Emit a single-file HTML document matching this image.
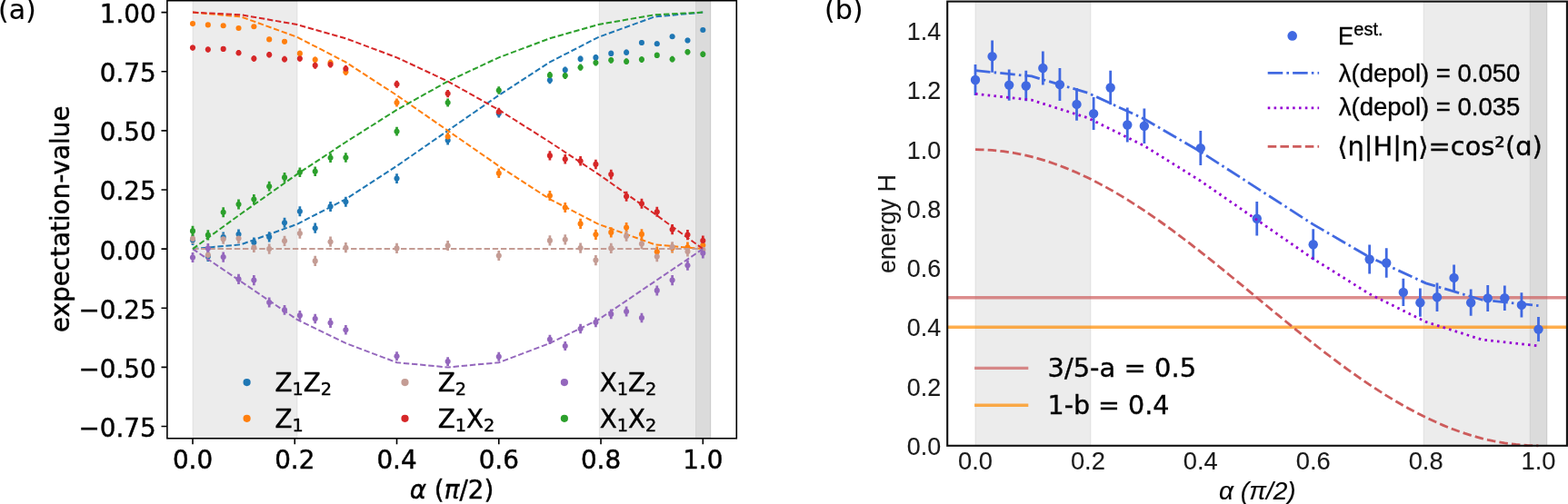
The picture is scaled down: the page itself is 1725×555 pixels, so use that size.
<!DOCTYPE html>
<html lang="en">
<head>
<meta charset="utf-8">
<title>Figure</title>
<style>
html,body{margin:0;padding:0;background:#fff;}
body{width:1725px;height:555px;overflow:hidden;}
svg{display:block;}
</style>
</head>
<body>
<svg width="1725" height="555" viewBox="0 0 1725 555">
<rect x="0" y="0" width="1725" height="555" fill="#ffffff"/>
<g id="axA">
<rect x="212" y="0.7" width="115.01" height="482.05" fill="#808080" fill-opacity="0.15" stroke="#808080" stroke-opacity="0.15" stroke-width="1"/>
<rect x="659.36" y="0.7" width="122.36" height="482.05" fill="#808080" fill-opacity="0.15" stroke="#808080" stroke-opacity="0.15" stroke-width="1"/>
<rect x="765.55" y="0.7" width="16.17" height="482.05" fill="#808080" fill-opacity="0.15" stroke="#808080" stroke-opacity="0.15" stroke-width="1"/>
<path d="M212 258.7V269.9M228.84 276.8V288M245.68 255.51V266.69M262.52 252.41V263.59M279.36 261.4V272.6M296.19 255.31V266.49M313.03 239.73V250.87M329.87 227.27V238.33M346.71 245.62V256.78M363.55 221.89V232.91M380.39 216.81V227.79M436.52 191.25V201.95M492.65 149.62V159.58M548.78 120.41V129.59M604.91 84.37V92.23M621.75 73.44V80.76M638.59 61.56V68.24M655.43 60.11V66.69M672.27 55.74V62.06M689.11 54.58V60.82M705.94 44.26V49.74M722.78 45.51V51.09M739.62 37.73V42.67M756.46 41.85V47.15M773.3 30.88V35.12" fill="none" stroke="#1f77b4" stroke-width="2.7"/>
<path d="M212 24.39V27.81M228.84 25.6V29.2M245.68 26.45V30.15M262.52 28.99V33.01M279.36 27.29V31.11M296.19 40.8V46M313.03 43.1V48.5M329.87 55.74V62.06M346.71 62.44V69.16M363.55 65.55V72.45M380.39 75.58V83.02M436.52 108.6V117.4M492.65 145.67V155.53M548.78 185.49V196.11M604.91 210.04V220.96M621.75 223.09V234.11M638.59 240.83V251.97M655.43 252.71V263.89M672.27 250.31V261.49M689.11 244.92V256.08M705.94 252.31V263.49M722.78 271.6V282.8M739.62 267.4V278.6M756.46 266.6V277.8M773.3 264.4V275.6" fill="none" stroke="#ff7f0e" stroke-width="2.7"/>
<path d="M212 257.31V268.49M228.84 275.3V286.5M245.68 257.6V268.8M262.52 256.91V268.09M279.36 266.9V278.1M296.19 268.5V279.7M313.03 259.7V270.9M329.87 251.51V262.69M346.71 281.81V292.99M363.55 260.6V271.8M380.39 267.1V278.3M436.52 267.8V279M492.65 264.9V276.1M548.78 275.9V287.1M604.91 259.3V270.5M621.75 258.2V269.4M638.59 267.5V278.7M655.43 281.01V292.19M672.27 267.8V279M689.11 254.51V265.69M705.94 263V274.2M722.78 277V288.2M739.62 266.2V277.4M756.46 271.4V282.6M773.3 269.3V280.5" fill="none" stroke="#c49c94" stroke-width="2.7"/>
<path d="M212 49.65V55.55M228.84 51.58V57.62M245.68 50.91V56.89M262.52 55.07V61.33M279.36 61.17V67.83M296.19 57V63.4M313.03 61.85V68.55M329.87 61.17V67.83M346.71 68.56V75.64M363.55 67.59V74.61M380.39 72.07V79.33M436.52 88.78V96.82M492.65 98.88V107.32M548.78 118.64V127.76M604.91 166.25V176.55M621.75 170.12V180.48M638.59 172.1V182.5M655.43 175.67V186.13M672.27 186.78V197.42M689.11 210.74V221.66M705.94 218.8V229.8M722.78 227.67V238.73M739.62 247.12V258.28M756.46 253.01V264.19M773.3 259.4V270.6" fill="none" stroke="#d62728" stroke-width="2.7"/>
<path d="M212 277.9V289.1M228.84 267.9V279.1M245.68 277.5V288.7M262.52 301.85V312.95M279.36 303.05V314.15M296.19 327.55V338.45M313.03 335.99V346.81M329.87 342.03V352.77M346.71 345.65V356.35M363.55 350.28V360.92M380.39 357.94V368.46M436.52 387.21V397.19M492.65 393.18V403.02M548.78 387.71V397.69M604.91 368.63V378.97M621.75 375.89V386.11M638.59 356.83V367.37M655.43 349.58V360.22M672.27 340.52V351.28M689.11 337.6V348.4M705.94 344.64V355.36M722.78 314.39V325.41M739.62 303.05V314.15M756.46 286.61V297.79M773.3 273.2V284.4" fill="none" stroke="#9467bd" stroke-width="2.7"/>
<path d="M212 248.82V259.98M228.84 253.31V264.49M245.68 228.17V239.23M262.52 219.5V230.5M279.36 214.12V225.08M296.19 199.8V210.6M313.03 190.06V200.74M329.87 184.5V195.1M346.71 183.41V193.99M363.55 168.63V178.97M380.39 168.33V178.67M436.52 139.84V149.56M492.65 108.6V117.4M548.78 95.34V103.66M604.91 79.1V86.7M621.75 79.39V87.01M638.59 70.61V77.79M655.43 65.55V72.45M672.27 62.92V69.68M689.11 64.28V71.12M705.94 62.24V68.96M722.78 57.68V64.12M739.62 61.85V68.55M756.46 54.2V60.4M773.3 56.62V62.98" fill="none" stroke="#2ca02c" stroke-width="2.7"/>
<g fill="#1f77b4">
<circle cx="212" cy="264.3" r="3.05"/>
<circle cx="228.84" cy="282.4" r="3.05"/>
<circle cx="245.68" cy="261.1" r="3.05"/>
<circle cx="262.52" cy="258" r="3.05"/>
<circle cx="279.36" cy="267" r="3.05"/>
<circle cx="296.19" cy="260.9" r="3.05"/>
<circle cx="313.03" cy="245.3" r="3.05"/>
<circle cx="329.87" cy="232.8" r="3.05"/>
<circle cx="346.71" cy="251.2" r="3.05"/>
<circle cx="363.55" cy="227.4" r="3.05"/>
<circle cx="380.39" cy="222.3" r="3.05"/>
<circle cx="436.52" cy="196.6" r="3.05"/>
<circle cx="492.65" cy="154.6" r="3.05"/>
<circle cx="548.78" cy="125" r="3.05"/>
<circle cx="604.91" cy="88.3" r="3.05"/>
<circle cx="621.75" cy="77.1" r="3.05"/>
<circle cx="638.59" cy="64.9" r="3.05"/>
<circle cx="655.43" cy="63.4" r="3.05"/>
<circle cx="672.27" cy="58.9" r="3.05"/>
<circle cx="689.11" cy="57.7" r="3.05"/>
<circle cx="705.94" cy="47" r="3.05"/>
<circle cx="722.78" cy="48.3" r="3.05"/>
<circle cx="739.62" cy="40.2" r="3.05"/>
<circle cx="756.46" cy="44.5" r="3.05"/>
<circle cx="773.3" cy="33" r="3.05"/>
</g>
<polyline points="212,274.1 265.04,269.28 326.79,246.88 380.39,219.29 436.52,182.79 492.65,143.85 548.78,104.91 604.91,68.41 658.51,40.82 720.26,18.42 773.3,13.6" fill="none" stroke="#1f77b4" stroke-width="2.0" stroke-dasharray="6.4,2.76" />
<g fill="#ff7f0e">
<circle cx="212" cy="26.1" r="3.05"/>
<circle cx="228.84" cy="27.4" r="3.05"/>
<circle cx="245.68" cy="28.3" r="3.05"/>
<circle cx="262.52" cy="31" r="3.05"/>
<circle cx="279.36" cy="29.2" r="3.05"/>
<circle cx="296.19" cy="43.4" r="3.05"/>
<circle cx="313.03" cy="45.8" r="3.05"/>
<circle cx="329.87" cy="58.9" r="3.05"/>
<circle cx="346.71" cy="65.8" r="3.05"/>
<circle cx="363.55" cy="69" r="3.05"/>
<circle cx="380.39" cy="79.3" r="3.05"/>
<circle cx="436.52" cy="113" r="3.05"/>
<circle cx="492.65" cy="150.6" r="3.05"/>
<circle cx="548.78" cy="190.8" r="3.05"/>
<circle cx="604.91" cy="215.5" r="3.05"/>
<circle cx="621.75" cy="228.6" r="3.05"/>
<circle cx="638.59" cy="246.4" r="3.05"/>
<circle cx="655.43" cy="258.3" r="3.05"/>
<circle cx="672.27" cy="255.9" r="3.05"/>
<circle cx="689.11" cy="250.5" r="3.05"/>
<circle cx="705.94" cy="257.9" r="3.05"/>
<circle cx="722.78" cy="277.2" r="3.05"/>
<circle cx="739.62" cy="273" r="3.05"/>
<circle cx="756.46" cy="272.2" r="3.05"/>
<circle cx="773.3" cy="270" r="3.05"/>
</g>
<polyline points="212,13.6 265.04,18.42 326.79,40.82 380.39,68.41 436.52,104.91 492.65,143.85 548.78,182.79 604.91,219.29 658.51,246.88 720.26,269.28 773.3,274.1" fill="none" stroke="#ff7f0e" stroke-width="2.0" stroke-dasharray="6.4,2.76" />
<g fill="#c49c94">
<circle cx="212" cy="262.9" r="3.05"/>
<circle cx="228.84" cy="280.9" r="3.05"/>
<circle cx="245.68" cy="263.2" r="3.05"/>
<circle cx="262.52" cy="262.5" r="3.05"/>
<circle cx="279.36" cy="272.5" r="3.05"/>
<circle cx="296.19" cy="274.1" r="3.05"/>
<circle cx="313.03" cy="265.3" r="3.05"/>
<circle cx="329.87" cy="257.1" r="3.05"/>
<circle cx="346.71" cy="287.4" r="3.05"/>
<circle cx="363.55" cy="266.2" r="3.05"/>
<circle cx="380.39" cy="272.7" r="3.05"/>
<circle cx="436.52" cy="273.4" r="3.05"/>
<circle cx="492.65" cy="270.5" r="3.05"/>
<circle cx="548.78" cy="281.5" r="3.05"/>
<circle cx="604.91" cy="264.9" r="3.05"/>
<circle cx="621.75" cy="263.8" r="3.05"/>
<circle cx="638.59" cy="273.1" r="3.05"/>
<circle cx="655.43" cy="286.6" r="3.05"/>
<circle cx="672.27" cy="273.4" r="3.05"/>
<circle cx="689.11" cy="260.1" r="3.05"/>
<circle cx="705.94" cy="268.6" r="3.05"/>
<circle cx="722.78" cy="282.6" r="3.05"/>
<circle cx="739.62" cy="271.8" r="3.05"/>
<circle cx="756.46" cy="277" r="3.05"/>
<circle cx="773.3" cy="274.9" r="3.05"/>
</g>
<polyline points="212,274.1 265.04,274.1 326.79,274.1 380.39,274.1 436.52,274.1 492.65,274.1 548.78,274.1 604.91,274.1 658.51,274.1 720.26,274.1 773.3,274.1" fill="none" stroke="#c49c94" stroke-width="2.0" stroke-dasharray="6.4,2.76" />
<g fill="#d62728">
<circle cx="212" cy="52.6" r="3.05"/>
<circle cx="228.84" cy="54.6" r="3.05"/>
<circle cx="245.68" cy="53.9" r="3.05"/>
<circle cx="262.52" cy="58.2" r="3.05"/>
<circle cx="279.36" cy="64.5" r="3.05"/>
<circle cx="296.19" cy="60.2" r="3.05"/>
<circle cx="313.03" cy="65.2" r="3.05"/>
<circle cx="329.87" cy="64.5" r="3.05"/>
<circle cx="346.71" cy="72.1" r="3.05"/>
<circle cx="363.55" cy="71.1" r="3.05"/>
<circle cx="380.39" cy="75.7" r="3.05"/>
<circle cx="436.52" cy="92.8" r="3.05"/>
<circle cx="492.65" cy="103.1" r="3.05"/>
<circle cx="548.78" cy="123.2" r="3.05"/>
<circle cx="604.91" cy="171.4" r="3.05"/>
<circle cx="621.75" cy="175.3" r="3.05"/>
<circle cx="638.59" cy="177.3" r="3.05"/>
<circle cx="655.43" cy="180.9" r="3.05"/>
<circle cx="672.27" cy="192.1" r="3.05"/>
<circle cx="689.11" cy="216.2" r="3.05"/>
<circle cx="705.94" cy="224.3" r="3.05"/>
<circle cx="722.78" cy="233.2" r="3.05"/>
<circle cx="739.62" cy="252.7" r="3.05"/>
<circle cx="756.46" cy="258.6" r="3.05"/>
<circle cx="773.3" cy="265" r="3.05"/>
</g>
<polyline points="212,13.6 265.04,16.26 326.79,27.04 380.39,42.31 436.52,63.3 492.65,89.54 548.78,120.98 604.91,156.48 658.51,191.91 720.26,235.49 773.3,274.1" fill="none" stroke="#d62728" stroke-width="2.0" stroke-dasharray="6.4,2.76" />
<g fill="#9467bd">
<circle cx="212" cy="283.5" r="3.05"/>
<circle cx="228.84" cy="273.5" r="3.05"/>
<circle cx="245.68" cy="283.1" r="3.05"/>
<circle cx="262.52" cy="307.4" r="3.05"/>
<circle cx="279.36" cy="308.6" r="3.05"/>
<circle cx="296.19" cy="333" r="3.05"/>
<circle cx="313.03" cy="341.4" r="3.05"/>
<circle cx="329.87" cy="347.4" r="3.05"/>
<circle cx="346.71" cy="351" r="3.05"/>
<circle cx="363.55" cy="355.6" r="3.05"/>
<circle cx="380.39" cy="363.2" r="3.05"/>
<circle cx="436.52" cy="392.2" r="3.05"/>
<circle cx="492.65" cy="398.1" r="3.05"/>
<circle cx="548.78" cy="392.7" r="3.05"/>
<circle cx="604.91" cy="373.8" r="3.05"/>
<circle cx="621.75" cy="381" r="3.05"/>
<circle cx="638.59" cy="362.1" r="3.05"/>
<circle cx="655.43" cy="354.9" r="3.05"/>
<circle cx="672.27" cy="345.9" r="3.05"/>
<circle cx="689.11" cy="343" r="3.05"/>
<circle cx="705.94" cy="350" r="3.05"/>
<circle cx="722.78" cy="319.9" r="3.05"/>
<circle cx="739.62" cy="308.6" r="3.05"/>
<circle cx="756.46" cy="292.2" r="3.05"/>
<circle cx="773.3" cy="278.8" r="3.05"/>
</g>
<polyline points="212,274.1 265.04,310 326.79,351.86 380.39,377.91 436.52,399.19 492.65,404.48 548.78,399.19 604.91,377.91 658.51,351.86 720.26,310 773.3,274.1" fill="none" stroke="#9467bd" stroke-width="2.0" stroke-dasharray="6.4,2.76" />
<g fill="#2ca02c">
<circle cx="212" cy="254.4" r="3.05"/>
<circle cx="228.84" cy="258.9" r="3.05"/>
<circle cx="245.68" cy="233.7" r="3.05"/>
<circle cx="262.52" cy="225" r="3.05"/>
<circle cx="279.36" cy="219.6" r="3.05"/>
<circle cx="296.19" cy="205.2" r="3.05"/>
<circle cx="313.03" cy="195.4" r="3.05"/>
<circle cx="329.87" cy="189.8" r="3.05"/>
<circle cx="346.71" cy="188.7" r="3.05"/>
<circle cx="363.55" cy="173.8" r="3.05"/>
<circle cx="380.39" cy="173.5" r="3.05"/>
<circle cx="436.52" cy="144.7" r="3.05"/>
<circle cx="492.65" cy="113" r="3.05"/>
<circle cx="548.78" cy="99.5" r="3.05"/>
<circle cx="604.91" cy="82.9" r="3.05"/>
<circle cx="621.75" cy="83.2" r="3.05"/>
<circle cx="638.59" cy="74.2" r="3.05"/>
<circle cx="655.43" cy="69" r="3.05"/>
<circle cx="672.27" cy="66.3" r="3.05"/>
<circle cx="689.11" cy="67.7" r="3.05"/>
<circle cx="705.94" cy="65.6" r="3.05"/>
<circle cx="722.78" cy="60.9" r="3.05"/>
<circle cx="739.62" cy="65.2" r="3.05"/>
<circle cx="756.46" cy="57.3" r="3.05"/>
<circle cx="773.3" cy="59.8" r="3.05"/>
</g>
<polyline points="212,274.1 265.04,235.49 326.79,191.91 380.39,156.48 436.52,120.98 492.65,89.54 548.78,63.3 604.91,42.31 658.51,27.04 720.26,16.26 773.3,13.6" fill="none" stroke="#2ca02c" stroke-width="2.0" stroke-dasharray="6.4,2.76" />
<rect x="183.9" y="0.7" width="626.4" height="482.05" fill="none" stroke="#000" stroke-width="1.6"/>
<path d="M212 482.75V489.15M324.26 482.75V489.15M436.52 482.75V489.15M548.78 482.75V489.15M661.04 482.75V489.15M773.3 482.75V489.15M183.9 13.6H177.5M183.9 78.73H177.5M183.9 143.85H177.5M183.9 208.98H177.5M183.9 274.1H177.5M183.9 339.23H177.5M183.9 404.35H177.5M183.9 469.48H177.5" fill="none" stroke="#000" stroke-width="1.6"/>
<g font-family="'DejaVu Sans','Liberation Sans',sans-serif" font-size="27.8" fill="#000" stroke="#000" stroke-width="0.45" stroke-linejoin="round">
<text x="212" y="516" text-anchor="middle">0.0</text>
<text x="324.26" y="516" text-anchor="middle">0.2</text>
<text x="436.52" y="516" text-anchor="middle">0.4</text>
<text x="548.78" y="516" text-anchor="middle">0.6</text>
<text x="661.04" y="516" text-anchor="middle">0.8</text>
<text x="773.3" y="516" text-anchor="middle">1.0</text>
<text x="171.7" y="25" text-anchor="end">1.00</text>
<text x="171.7" y="90.13" text-anchor="end">0.75</text>
<text x="171.7" y="155.25" text-anchor="end">0.50</text>
<text x="171.7" y="220.38" text-anchor="end">0.25</text>
<text x="171.7" y="285.5" text-anchor="end">0.00</text>
<text x="171.7" y="350.62" text-anchor="end">−0.25</text>
<text x="171.7" y="415.75" text-anchor="end">−0.50</text>
<text x="171.7" y="480.88" text-anchor="end">−0.75</text>
<text x="497" y="548.6" text-anchor="middle"><tspan font-style="italic">α</tspan> (<tspan font-style="italic">π</tspan>/2)</text>
<text transform="translate(75.6,241.2) rotate(-90)" text-anchor="middle">expectation-value</text>
<circle cx="271.6" cy="421.1" r="4.1" fill="#1f77b4" stroke="none"/>
<text x="302.4" y="430.6">Z<tspan dy="4.4" font-size="19.3">1</tspan><tspan dy="-4.4">Z</tspan><tspan dy="4.4" font-size="19.3">2</tspan></text>
<circle cx="271.6" cy="460.8" r="4.1" fill="#ff7f0e" stroke="none"/>
<text x="302.4" y="470.6">Z<tspan dy="4.4" font-size="19.3">1</tspan></text>
<circle cx="445.5" cy="421.1" r="4.1" fill="#c49c94" stroke="none"/>
<text x="481.7" y="430.6">Z<tspan dy="4.4" font-size="19.3">2</tspan></text>
<circle cx="445.5" cy="460.8" r="4.1" fill="#d62728" stroke="none"/>
<text x="481.7" y="470.6">Z<tspan dy="4.4" font-size="19.3">1</tspan><tspan dy="-4.4">X</tspan><tspan dy="4.4" font-size="19.3">2</tspan></text>
<circle cx="620.9" cy="421.1" r="4.1" fill="#9467bd" stroke="none"/>
<text x="659.7" y="430.6">X<tspan dy="4.4" font-size="19.3">1</tspan><tspan dy="-4.4">Z</tspan><tspan dy="4.4" font-size="19.3">2</tspan></text>
<circle cx="620.9" cy="460.8" r="4.1" fill="#2ca02c" stroke="none"/>
<text x="659.7" y="470.6">X<tspan dy="4.4" font-size="19.3">1</tspan><tspan dy="-4.4">X</tspan><tspan dy="4.4" font-size="19.3">2</tspan></text>
</g>
</g>
<g id="axB">
<rect x="1073" y="1.6" width="126.94" height="489.2" fill="#808080" fill-opacity="0.15" stroke="#808080" stroke-opacity="0.15" stroke-width="1"/>
<rect x="1566.12" y="1.6" width="135.67" height="489.2" fill="#808080" fill-opacity="0.15" stroke="#808080" stroke-opacity="0.15" stroke-width="1"/>
<rect x="1683.21" y="1.6" width="18.59" height="489.2" fill="#808080" fill-opacity="0.15" stroke="#808080" stroke-opacity="0.15" stroke-width="1"/>
<path d="M1042.2 327.8H1725" stroke="#cd5c5c" stroke-opacity="0.7" stroke-width="3.4" fill="none"/>
<path d="M1042.2 360.3H1725" stroke="#ff8c00" stroke-opacity="0.7" stroke-width="3.4" fill="none"/>
<path d="M1073 71.1V104.9M1091.59 44.4V79.8M1110.17 76.5V110.7M1128.76 77.8V111.2M1147.34 56.4V93.6M1165.92 75.1V111.1M1184.51 97V132.8M1203.1 107.1V143.1M1221.68 77.8V115.2M1240.27 118.6V156.4M1258.85 119.5V157.9M1320.8 144.1V182.1M1382.75 222V259.4M1444.7 252.3V286.3M1506.65 269.5V301.5M1525.24 273.3V305.7M1543.82 306.8V337M1562.4 317.6V348.8M1580.99 311.5V343.1M1599.57 291.5V320.3M1618.16 318.6V347.8M1636.74 313.9V342.9M1655.33 314.4V342M1673.91 322.2V349.6M1692.5 349.1V376.1" fill="none" stroke="#4169e1" stroke-width="2.8"/>
<circle cx="1073" cy="88" r="5.2" fill="#4169e1"/>
<circle cx="1091.59" cy="62.1" r="5.2" fill="#4169e1"/>
<circle cx="1110.17" cy="93.6" r="5.2" fill="#4169e1"/>
<circle cx="1128.76" cy="94.5" r="5.2" fill="#4169e1"/>
<circle cx="1147.34" cy="75" r="5.2" fill="#4169e1"/>
<circle cx="1165.92" cy="93.1" r="5.2" fill="#4169e1"/>
<circle cx="1184.51" cy="114.9" r="5.2" fill="#4169e1"/>
<circle cx="1203.1" cy="125.1" r="5.2" fill="#4169e1"/>
<circle cx="1221.68" cy="96.5" r="5.2" fill="#4169e1"/>
<circle cx="1240.27" cy="137.5" r="5.2" fill="#4169e1"/>
<circle cx="1258.85" cy="138.7" r="5.2" fill="#4169e1"/>
<circle cx="1320.8" cy="163.1" r="5.2" fill="#4169e1"/>
<circle cx="1382.75" cy="240.7" r="5.2" fill="#4169e1"/>
<circle cx="1444.7" cy="269.3" r="5.2" fill="#4169e1"/>
<circle cx="1506.65" cy="285.5" r="5.2" fill="#4169e1"/>
<circle cx="1525.24" cy="289.5" r="5.2" fill="#4169e1"/>
<circle cx="1543.82" cy="321.9" r="5.2" fill="#4169e1"/>
<circle cx="1562.4" cy="333.2" r="5.2" fill="#4169e1"/>
<circle cx="1580.99" cy="327.3" r="5.2" fill="#4169e1"/>
<circle cx="1599.57" cy="305.9" r="5.2" fill="#4169e1"/>
<circle cx="1618.16" cy="333.2" r="5.2" fill="#4169e1"/>
<circle cx="1636.74" cy="328.4" r="5.2" fill="#4169e1"/>
<circle cx="1655.33" cy="328.2" r="5.2" fill="#4169e1"/>
<circle cx="1673.91" cy="335.9" r="5.2" fill="#4169e1"/>
<circle cx="1692.5" cy="362.6" r="5.2" fill="#4169e1"/>
<polyline points="1073,77.63 1134.95,83.97 1196.9,102.36 1258.85,131 1320.8,167.09 1382.75,207.09 1444.7,247.1 1506.65,283.19 1568.6,311.83 1630.55,330.22 1692.5,336.55" fill="none" stroke="#4169e1" stroke-width="2.8" stroke-dasharray="16.55,4.14,2.59,4.14" />
<polyline points="1073,103.39 1134.95,110.18 1196.9,129.89 1258.85,160.59 1320.8,199.27 1382.75,242.15 1444.7,285.03 1506.65,323.71 1568.6,354.4 1630.55,374.11 1692.5,380.9" fill="none" stroke="#9400d3" stroke-width="2.8" stroke-dasharray="2.59,4.26" />
<polyline points="1073,164.7 1079.19,164.78 1085.39,165.02 1091.59,165.42 1097.78,165.99 1103.97,166.71 1110.17,167.59 1116.37,168.63 1122.56,169.82 1128.76,171.17 1134.95,172.68 1141.14,174.34 1147.34,176.15 1153.54,178.11 1159.73,180.22 1165.92,182.47 1172.12,184.87 1178.32,187.41 1184.51,190.08 1190.7,192.89 1196.9,195.84 1203.1,198.92 1209.29,202.12 1215.49,205.44 1221.68,208.89 1227.88,212.46 1234.07,216.13 1240.27,219.92 1246.46,223.82 1252.65,227.82 1258.85,231.91 1265.05,236.1 1271.24,240.38 1277.43,244.75 1283.63,249.2 1289.83,253.73 1296.02,258.33 1302.21,263 1308.41,267.73 1314.61,272.52 1320.8,277.36 1326.99,282.26 1333.19,287.2 1339.38,292.18 1345.58,297.2 1351.78,302.24 1357.97,307.31 1364.16,312.41 1370.36,317.51 1376.56,322.63 1382.75,327.75 1388.94,332.87 1395.14,337.99 1401.34,343.09 1407.53,348.19 1413.72,353.26 1419.92,358.3 1426.12,363.32 1432.31,368.3 1438.51,373.24 1444.7,378.14 1450.89,382.98 1457.09,387.77 1463.29,392.5 1469.48,397.17 1475.67,401.77 1481.87,406.3 1488.07,410.75 1494.26,415.12 1500.45,419.4 1506.65,423.59 1512.85,427.68 1519.04,431.68 1525.24,435.58 1531.43,439.37 1537.62,443.04 1543.82,446.61 1550.01,450.06 1556.21,453.38 1562.4,456.58 1568.6,459.66 1574.8,462.61 1580.99,465.42 1587.18,468.09 1593.38,470.63 1599.57,473.03 1605.77,475.28 1611.97,477.39 1618.16,479.35 1624.36,481.16 1630.55,482.82 1636.74,484.33 1642.94,485.68 1649.13,486.87 1655.33,487.91 1661.53,488.79 1667.72,489.51 1673.91,490.08 1680.11,490.48 1686.3,490.72 1692.5,490.8" fill="none" stroke="#cd5c5c" stroke-width="2.8" stroke-dasharray="9.56,4.14" />
<rect x="1042.2" y="1.6" width="681.7" height="489.2" fill="none" stroke="#111" stroke-width="2.1"/>
<g font-family="'Liberation Sans','DejaVu Sans',sans-serif" font-size="27.5" fill="#000" stroke="#000" stroke-width="0.35" stroke-linejoin="round">
<g stroke-width="0.1" font-size="28" fill="#1a1a1a">
<text transform="translate(1073,517) scale(0.975,1)" text-anchor="middle">0.0</text>
<text transform="translate(1196.9,517) scale(0.975,1)" text-anchor="middle">0.2</text>
<text transform="translate(1320.8,517) scale(0.975,1)" text-anchor="middle">0.4</text>
<text transform="translate(1444.7,517) scale(0.975,1)" text-anchor="middle">0.6</text>
<text transform="translate(1568.6,517) scale(0.975,1)" text-anchor="middle">0.8</text>
<text transform="translate(1692.5,517) scale(0.975,1)" text-anchor="middle">1.0</text>
<text transform="translate(1035.2,500.8) scale(0.96,1)" text-anchor="end">0.0</text>
<text transform="translate(1035.2,435.58) scale(0.96,1)" text-anchor="end">0.2</text>
<text transform="translate(1035.2,370.36) scale(0.96,1)" text-anchor="end">0.4</text>
<text transform="translate(1035.2,305.14) scale(0.96,1)" text-anchor="end">0.6</text>
<text transform="translate(1035.2,239.92) scale(0.96,1)" text-anchor="end">0.8</text>
<text transform="translate(1035.2,174.7) scale(0.96,1)" text-anchor="end">1.0</text>
<text transform="translate(1035.2,109.48) scale(0.96,1)" text-anchor="end">1.2</text>
<text transform="translate(1035.2,44.26) scale(0.96,1)" text-anchor="end">1.4</text>
</g>
<text x="1383.4" y="549.5" text-anchor="middle" font-style="italic" stroke-width="0.15" textLength="84.6" lengthAdjust="spacingAndGlyphs">α (π/2)</text>
<text transform="translate(984.8,246.6) rotate(-90)" text-anchor="middle" font-size="26.8" stroke-width="0.1" fill="#1a1a1a">energy H</text>
<circle cx="1421.7" cy="39.4" r="5.3" fill="#4169e1" stroke="none"/>
<path d="M1394.7 80.45H1451.1" stroke="#4169e1" stroke-width="2.8" stroke-dasharray="16.55,4.14,2.59,4.14" fill="none"/>
<path d="M1394.7 118.8H1451.1" stroke="#9400d3" stroke-width="2.8" stroke-dasharray="2.59,4.26" fill="none"/>
<path d="M1394.7 161.3H1451.1" stroke="#cd5c5c" stroke-width="2.8" stroke-dasharray="9.56,4.14" fill="none"/>
<text x="1472.0" y="48.9" textLength="17.2" lengthAdjust="spacingAndGlyphs">E</text>
<text x="1489.3" y="39.1" font-size="19.6" textLength="32.2" lengthAdjust="spacingAndGlyphs">est.</text>
<text x="1472.8" y="90.2">λ(depol) = 0.050</text>
<text x="1472.8" y="127">λ(depol) = 0.035</text>
<text x="1471.3" y="170.6" font-family="'DejaVu Sans','Liberation Sans',sans-serif" font-size="28" textLength="225.5" lengthAdjust="spacingAndGlyphs">⟨η|H|η⟩=cos²(ɑ)</text>
</g>
<path d="M1072.1 405.4H1131.3" stroke="#cd5c5c" stroke-opacity="0.7" stroke-width="3.4" fill="none"/>
<path d="M1072.1 446.3H1131.3" stroke="#ff8c00" stroke-opacity="0.7" stroke-width="3.4" fill="none"/>
<g font-family="'DejaVu Sans','Liberation Sans',sans-serif" font-size="28" fill="#000" stroke="#000" stroke-width="0.35">
<text x="1152.5" y="414.5" textLength="163.6" lengthAdjust="spacingAndGlyphs">3/5-a = 0.5</text>
<text x="1152.5" y="456.2" textLength="133.9" lengthAdjust="spacingAndGlyphs">1-b = 0.4</text>
</g>
</g>
<g font-family="'DejaVu Sans','Liberation Sans',sans-serif" font-size="30" fill="#000" stroke="#000" stroke-width="0.12">
<text x="-2.1" y="21.4" textLength="41.9" lengthAdjust="spacingAndGlyphs">(a)</text>
<text x="906.9" y="20.9" textLength="42.6" lengthAdjust="spacingAndGlyphs">(b)</text>
</g>
</svg>
</body>
</html>
